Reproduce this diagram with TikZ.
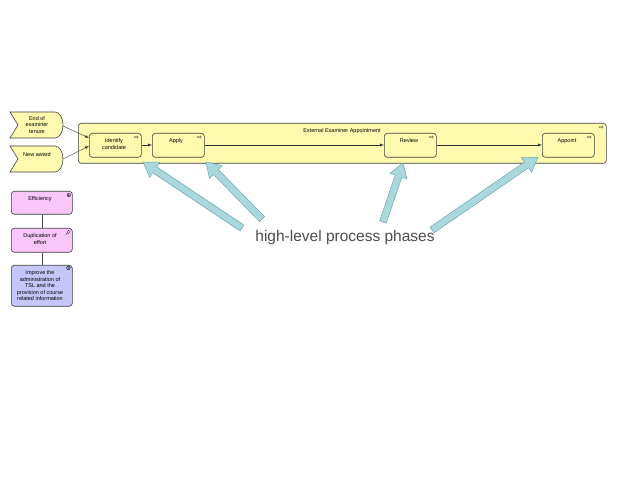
\documentclass[tikz,border=0pt]{standalone}
\usepackage{fontspec}
\setmainfont{Liberation Sans}
\newfontfamily\dv{DejaVu Sans}
\usetikzlibrary{calc}
\definecolor{yel}{HTML}{FFFAAE}
\definecolor{pinkf}{HTML}{F8C6F8}
\definecolor{lav}{HTML}{C6C6FA}
\definecolor{arrf}{HTML}{A8D8DC}
\definecolor{arrd}{HTML}{6FA9B0}
\tikzset{
  proc/.style={draw=black!75,fill=yel,rounded corners=3pt,line width=0.6pt},
  goal/.style={draw=black!75,rounded corners=3pt,line width=0.6pt},
  lbl/.style={font=\fontsize{5.5}{6.5}\selectfont,align=center},
  icon/.style={font=\dv\fontsize{6}{6}\selectfont,inner sep=0pt},
  flow/.style={draw=black!80,line width=0.4pt,-latex},
  link/.style={draw=black!70,line width=0.5pt},
  fat/.style={fill=arrf,draw=arrd,line width=0.5pt,line join=miter}
}
\newcommand{\fatarr}[2]{%
  \path let \p1=($(#2)-(#1)$), \n1={atan2(\y1,\x1)} in
    [fat] ($(#1)+(\n1+90:3.5pt)$) -- ($(#2)+(\n1+180:14pt)+(\n1+90:3.5pt)$)
    -- ($(#2)+(\n1+180:14pt)+(\n1+90:9pt)$) -- (#2)
    -- ($(#2)+(\n1+180:14pt)+(\n1-90:9pt)$) -- ($(#2)+(\n1+180:14pt)+(\n1-90:3.5pt)$)
    -- ($(#1)+(\n1-90:3.5pt)$) -- cycle;}
\begin{document}
\begin{tikzpicture}[x=1pt,y=-1pt]
\useasboundingbox[fill=white] (0,0) rectangle (638,478);
% events
\foreach \y in {112,146}{
  \path[draw=black!75,fill=yel,line width=0.6pt] (10,\y) -- (55,\y) arc[start angle=90,end angle=-90,x radius=8,y radius=-13] -- (10,\y+26) -- (18,\y+13) -- cycle;
}
\node[lbl] (ev1) at (37,125) {End of\\examiner\\tenure};
\node[lbl,anchor=north] (ev2) at (37,149) {New award};
\coordinate (ev1r) at (63,126);
\coordinate (ev2r) at (63,159);
% container
\node[proc,minimum width=528pt,minimum height=40pt,anchor=north west] (cont) at (78,123) {};
\node[lbl,anchor=north] (ctitle) at (342,125) {External Examiner Appointment};
\node[icon,anchor=north east] (cicon) at (604,125.5) {⇨};
% processes
\foreach \n/\x in {idc/89,app/152,rev/384,apt/542}{
  \node[proc,minimum width=52pt,minimum height=24pt,anchor=north west] (\n) at (\x,133) {};
  \node[icon,anchor=north east] (\n i) at (\x+50,135.5) {⇨};
}
\node[lbl,anchor=north] (idct) at (114,135) {Identify\\candidate};
\node[lbl,anchor=north] (appt) at (176,135) {Apply};
\node[lbl,anchor=north] (revt) at (409,135) {Review};
\node[lbl,anchor=north] (aptt) at (567,135) {Appoint};
\draw[flow] (ev1r) -- (idc.west|-0,138);
\draw[flow] (ev2r) -- (idc.west|-0,146);
\draw[flow] (idc.east|-0,145) -- (app.west|-0,145);
\draw[flow] (app.east|-0,145) -- (rev.west|-0,145);
\draw[flow] (rev.east|-0,145) -- (apt.west|-0,145);
% goals
\node[goal,fill=pinkf,minimum width=61pt,minimum height=23pt,anchor=north west] (eff) at (11,191) {};
\node[goal,fill=pinkf,minimum width=61pt,minimum height=24pt,anchor=north west] (dup) at (11,228) {};
\node[goal,fill=lav,minimum width=61pt,minimum height=41pt,anchor=north west] (imp) at (11,265) {};
\draw[link] (eff) -- (dup);
\draw[link] (dup) -- (imp);
\node[lbl,anchor=north] (efft) at (40,193) {Efficiency};
\node[lbl,anchor=north] (dupt) at (40,230) {Duplication of\\effort};
\node[lbl,anchor=north] (impt) at (40,267) {Improve the\\administration of\\TSL and the\\provision of course\\related information};
\node[icon,anchor=north east] (effi) at (71.5,193) {⊕};
\node[icon,anchor=north east] (impi) at (71.5,266) {⚙};
\draw[black!70,line width=0.4pt] (68.5,232) circle (1.6) (67.4,233.1) -- (65.8,234.7);
% callout
\node[text=black!70,font=\fontsize{15.5}{18}\selectfont] (hl) at (345,237) {high-level process phases};
\coordinate (t1) at (242,228); \coordinate (h1) at (143,162);
\coordinate (t2) at (262,219); \coordinate (h2) at (206,162);
\coordinate (t3) at (383,222); \coordinate (h3) at (403,163);
\coordinate (t4) at (432,230); \coordinate (h4) at (538,157);
\fatarr{t1}{h1}
\fatarr{t2}{h2}
\fatarr{t3}{h3}
\fatarr{t4}{h4}
\end{tikzpicture}
\end{document}
